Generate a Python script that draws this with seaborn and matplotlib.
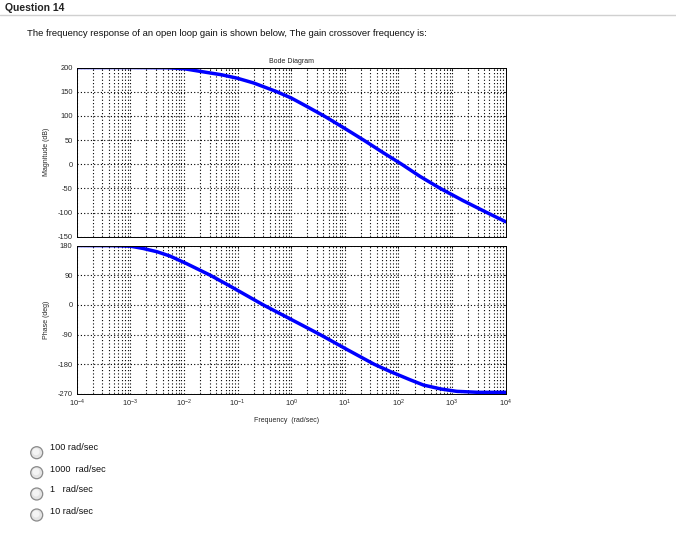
import numpy as np
import matplotlib
matplotlib.use("Agg")
import matplotlib.pyplot as plt
import seaborn as sns
from matplotlib.lines import Line2D
from matplotlib.patches import Circle
from matplotlib.transforms import IdentityTransform
from matplotlib.ticker import LogLocator, FixedLocator

# magnitude curve (log10 of frequency, dB)
mag_logw = [-4, -3, -2.3, -2.0, -1.64, -1.3, -1.01, -0.7, -0.27, 0.0,
            0.3, 0.61, 1.0, 1.35, 1.7, 2.06, 2.4, 2.78, 3.2, 3.65, 4.0]
mag_db = [200, 200, 199.5, 197.5, 191, 185, 178, 168, 150, 137,
          119, 100, 74, 50, 25, 0, -25, -50, -75, -100, -119]

# phase curve (log10 of frequency, deg)
ph_logw = [-4, -3.3, -3, -2.76, -2.5, -2.26, -1.95, -1.51, -1.14, -0.52,
           0, 0.54, 1.04, 1.55, 1.85, 2.22, 2.47, 2.8, 3.09, 3.5, 4]
ph_deg = [180, 179.5, 178, 171, 161, 148, 125, 90, 57, 0,
          -44, -90, -135, -180, -202, -227, -243, -255, -262, -265, -265]

mag_ticks = [-150, -100, -50, 0, 50, 100, 150, 200]
ph_ticks = [-270, -180, -90, 0, 90, 180]

question = "Question 14"
prompt = "The frequency response of an open loop gain is shown below, The gain crossover frequency is:"
choices = ["100 rad/sec", "1000  rad/sec", "1   rad/sec", "10 rad/sec"]

sns.set_style("white")
plt.rcParams["font.family"] = ["Liberation Sans", "DejaVu Sans"]
plt.rcParams["axes.unicode_minus"] = False

W, H = 676, 545
fig = plt.figure(figsize=(W / 100, H / 100), dpi=100)
fig.patch.set_facecolor("white")


def fig_rect(x0, y0, x1, y1):
    # pixel box (top-left origin) -> figure fraction rect
    return [x0 / W, 1 - y1 / H, (x1 - x0) / W, (y1 - y0) / H]


ax_mag = fig.add_axes(fig_rect(76.7, 67.5, 505.6, 236.7))
ax_ph = fig.add_axes(fig_rect(76.7, 245.5, 505.6, 394))

sns.lineplot(x=10.0 ** np.array(mag_logw), y=mag_db, ax=ax_mag,
             color="#0000ff", linewidth=2.5)
sns.lineplot(x=10.0 ** np.array(ph_logw), y=ph_deg, ax=ax_ph,
             color="#0000ff", linewidth=2.5)

for ax, ticks in [(ax_mag, mag_ticks), (ax_ph, ph_ticks)]:
    ax.set_xscale("log")
    ax.set_xlim(1e-4, 1e4)
    ax.set_ylim(ticks[0], ticks[-1])
    ax.yaxis.set_major_locator(FixedLocator(ticks))
    ax.xaxis.set_major_locator(LogLocator(base=10, numticks=20))
    ax.xaxis.set_minor_locator(LogLocator(base=10, subs=np.arange(2, 10), numticks=100))
    ax.grid(True, which="major", color="black", linestyle=(0, (1, 2)), linewidth=0.8)
    ax.grid(True, which="minor", axis="x", color="black", linestyle=(0, (1, 2)), linewidth=0.8)
    ax.tick_params(which="major", direction="in", length=2.5, width=0.5,
                   labelsize=5.4, pad=3, top=True, right=True, color="black")
    ax.tick_params(which="minor", direction="in", length=1.5, width=0.4,
                   top=True, bottom=True)
    for sp in ax.spines.values():
        sp.set_color("black")
        sp.set_linewidth(0.7)
    ax.set_facecolor("white")

ax_mag.tick_params(axis="x", which="both", labelbottom=False)
ax_mag.set_title("Bode Diagram", fontsize=5, pad=3)
ax_mag.set_ylabel("Magnitude (dB)", fontsize=5)
ax_mag.yaxis.set_label_coords(-0.062, 0.5)

ax_ph.set_ylabel("Phase (deg)", fontsize=5)
ax_ph.yaxis.set_label_coords(-0.062, 0.5)
ax_ph.set_xlabel("Frequency  (rad/sec)", fontsize=5, labelpad=4)
ax_ph.xaxis.set_label_coords(0.49, -0.155)

# page text around the chart
fig.text(5 / W, 1 - 8 / H, question, fontsize=7.5, fontweight="bold",
         va="center", ha="left", color="#222222")
fig.add_artist(Line2D([0, 1], [1 - 15 / H, 1 - 15 / H], transform=fig.transFigure,
                      color="#d0d0d0", linewidth=1.0))
fig.text(27 / W, 1 - 33 / H, prompt, fontsize=6.8, va="center", ha="left",
         color="#111111")

circle_y = [452.7, 472.7, 494, 515]
text_y = [447.3, 469, 490, 511]
for cy, ty, label in zip(circle_y, text_y, choices):
    fig.add_artist(Circle((36.7, H - cy), 6, transform=IdentityTransform(),
                          facecolor="#e4e4e4", edgecolor="#8a8a8a", linewidth=0.9))
    fig.add_artist(Circle((36.0, H - cy + 1), 3.5, transform=IdentityTransform(),
                          facecolor="#f4f4f4", edgecolor="none"))
    fig.text(49.5 / W, 1 - ty / H, label, fontsize=6.6, va="center", ha="left",
             color="#111111")

fig.savefig("out.png", dpi=100, facecolor="white")
